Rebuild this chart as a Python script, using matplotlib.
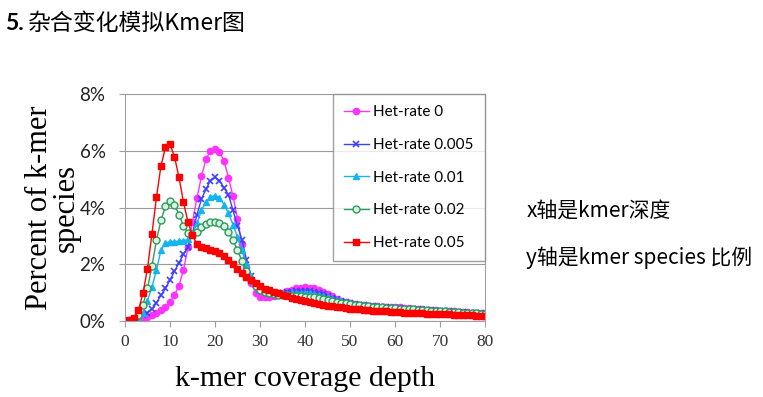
import numpy as np
import matplotlib
matplotlib.use("Agg")
import matplotlib.pyplot as plt
from matplotlib.ticker import PercentFormatter

# k-mer depth 1..80
depth = list(range(1, 81))

# percent of k-mer species for each het rate
het_0 = [0.02, 0.03, 0.05, 0.08, 0.15, 0.2, 0.27, 0.39, 0.5, 0.68,
         0.91, 1.25, 1.8, 2.6, 3.5, 4.35, 5.1, 5.7, 6.0, 6.05,
         5.95, 5.65, 5.05, 4.4, 3.6, 2.7, 1.9, 1.35, 1.0, 0.85,
         0.83, 0.84, 0.88, 0.93, 0.99, 1.05, 1.1, 1.15, 1.18, 1.19,
         1.18, 1.15, 1.1, 1.03, 0.95, 0.87, 0.79, 0.72, 0.67, 0.63,
         0.6, 0.58, 0.56, 0.54, 0.53, 0.52, 0.51, 0.5, 0.5, 0.49,
         0.48, 0.47, 0.45, 0.44, 0.42, 0.41, 0.4, 0.39, 0.38, 0.37,
         0.36, 0.35, 0.34, 0.33, 0.32, 0.31, 0.3, 0.29, 0.28, 0.27]
het_005 = [0.0, 0.03, 0.1, 0.2, 0.3, 0.42, 0.65, 0.9, 1.15, 1.45,
           1.75, 2.05, 2.35, 2.6, 3.1, 3.75, 4.3, 4.65, 4.95, 5.06,
           4.95, 4.7, 4.45, 3.9, 3.35, 2.85, 2.15, 1.6, 1.3, 1.1,
           1.05, 1.02, 1.0, 1.0, 1.0, 1.02, 1.04, 1.06, 1.07, 1.07,
           1.06, 1.03, 0.99, 0.94, 0.88, 0.82, 0.76, 0.71, 0.67, 0.63,
           0.6, 0.58, 0.56, 0.54, 0.52, 0.5, 0.49, 0.48, 0.47, 0.46,
           0.45, 0.44, 0.43, 0.42, 0.41, 0.4, 0.39, 0.38, 0.37, 0.36,
           0.35, 0.34, 0.33, 0.32, 0.31, 0.3, 0.29, 0.28, 0.27, 0.26]
het_01 = [0.0, 0.02, 0.1, 0.3, 0.72, 1.2, 1.8, 2.5, 2.75, 2.8,
          2.8, 2.82, 2.83, 2.88, 3.05, 3.45, 3.9, 4.2, 4.38, 4.42,
          4.35, 4.1, 3.8, 3.4, 2.95, 2.5, 2.0, 1.6, 1.3, 1.12,
          1.06, 1.02, 0.99, 0.97, 0.96, 0.96, 0.97, 0.98, 0.98, 0.98,
          0.97, 0.95, 0.92, 0.88, 0.84, 0.79, 0.74, 0.7, 0.66, 0.62,
          0.59, 0.57, 0.55, 0.53, 0.51, 0.5, 0.48, 0.47, 0.46, 0.45,
          0.44, 0.43, 0.42, 0.41, 0.4, 0.39, 0.38, 0.37, 0.36, 0.35,
          0.34, 0.33, 0.32, 0.31, 0.3, 0.29, 0.28, 0.27, 0.26, 0.25]
het_02 = [0.0, 0.05, 0.22, 0.58, 1.15, 1.95, 2.85, 3.55, 4.05, 4.22,
          4.1, 3.75, 3.35, 3.1, 3.05, 3.15, 3.3, 3.42, 3.48, 3.5,
          3.45, 3.35, 3.15, 2.85, 2.5, 2.1, 1.75, 1.45, 1.25, 1.1,
          1.04, 1.0, 0.96, 0.93, 0.91, 0.9, 0.89, 0.88, 0.87, 0.86,
          0.85, 0.83, 0.8, 0.77, 0.74, 0.71, 0.68, 0.65, 0.62, 0.6,
          0.58, 0.56, 0.54, 0.52, 0.5, 0.49, 0.48, 0.47, 0.46, 0.45,
          0.44, 0.43, 0.42, 0.41, 0.4, 0.39, 0.38, 0.37, 0.36, 0.35,
          0.34, 0.33, 0.32, 0.31, 0.3, 0.29, 0.28, 0.27, 0.26, 0.25]
het_05 = [0.04, 0.09, 0.39, 0.97, 1.85, 3.08, 4.36, 5.47, 6.12, 6.23,
          5.79, 5.06, 4.19, 3.48, 3.02, 2.7, 2.62, 2.56, 2.5, 2.45,
          2.38, 2.28, 2.15, 2.0, 1.85, 1.7, 1.56, 1.44, 1.33, 1.22,
          1.14, 1.08, 1.02, 0.97, 0.92, 0.87, 0.82, 0.77, 0.73, 0.69,
          0.66, 0.63, 0.6, 0.57, 0.54, 0.52, 0.5, 0.48, 0.46, 0.44,
          0.42, 0.41, 0.39, 0.38, 0.37, 0.36, 0.35, 0.34, 0.33, 0.32,
          0.31, 0.3, 0.29, 0.28, 0.28, 0.27, 0.26, 0.25, 0.25, 0.24,
          0.23, 0.23, 0.22, 0.21, 0.21, 0.2, 0.2, 0.19, 0.19, 0.18]

labels = ["Het-rate 0", "Het-rate 0.005", "Het-rate 0.01", "Het-rate 0.02", "Het-rate 0.05"]
x_ticks = [0, 10, 20, 30, 40, 50, 60, 70, 80]
y_ticks = [0, 2, 4, 6, 8]

fig = plt.figure(figsize=(7.63, 3.97), dpi=100)
ax = fig.add_axes([0.1638, 0.1914, 0.4719, 0.5718])

ax.plot(depth, het_0, color="#ff33ff", marker="o", ms=4.5, lw=1, label=labels[0])
ax.plot(depth, het_005, color="#3f3fff", marker="x", ms=5, mew=1.2, lw=1, label=labels[1])
ax.plot(depth, het_01, color="#14b4f0", marker="^", ms=5, lw=1, label=labels[2])
ax.plot(depth, het_02, color="#2e9a5c", marker="o", ms=5, mfc="#d8f5e2", mew=1, lw=1, label=labels[3])
ax.plot(depth, het_05, color="#ff0000", marker="s", ms=4.8, lw=1, label=labels[4])

ax.set_xlim(0, 80)
ax.set_ylim(0, 8)
ax.set_xticks(x_ticks)
ax.set_yticks(y_ticks)
ax.yaxis.set_major_formatter(PercentFormatter(xmax=100, decimals=0))
ax.grid(axis="y", color="#9a9a9a", lw=0.8)
ax.set_axisbelow(True)
for s in ["left", "bottom", "right"]:
    ax.spines[s].set_color("#a0a0a0")
ax.spines["top"].set_visible(False)
ax.tick_params(axis="both", color="#a0a0a0", length=4)
ax.tick_params(axis="y", pad=10)
ax.tick_params(axis="x", pad=5)
for t in ax.get_xticklabels():
    t.set_fontfamily("Liberation Serif")
    t.set_fontsize(12.5)
    t.set_color("#333333")
for t in ax.get_yticklabels():
    t.set_fontfamily("Lato")
    t.set_fontsize(13.5)
    t.set_color("#222222")

ax.set_xlabel("k-mer coverage depth", family="Liberation Serif", fontsize=21.5, labelpad=12)
ax.set_ylabel("Percent of k-mer\nspecies", family="Liberation Serif", fontsize=22,
              linespacing=0.92, labelpad=-1)

leg = ax.legend(loc="upper right", borderaxespad=0, frameon=True, fancybox=False,
                prop={"family": "Lato", "size": 11}, handlelength=1.6,
                labelspacing=1.22, handletextpad=0.3, borderpad=0.75)
leg.get_frame().set_edgecolor("#888888")
leg.get_frame().set_linewidth(1)

fig.text(0.006, 0.94, "5.", fontsize=16.5, weight="bold", family="Lato", va="center")
fig.text(0.037, 0.94, "杂合变化模拟Kmer图", fontsize=16.5,
         family=["Noto Sans CJK SC", "DejaVu Sans"], va="center")
fig.text(0.69, 0.466, "x轴是kmer深度", fontsize=15,
         family=["Noto Sans CJK SC", "DejaVu Sans"], va="center")
fig.text(0.69, 0.35, "y轴是kmer species 比例", fontsize=15,
         family=["Noto Sans CJK SC", "DejaVu Sans"], va="center")

fig.savefig("out.png", dpi=100)
